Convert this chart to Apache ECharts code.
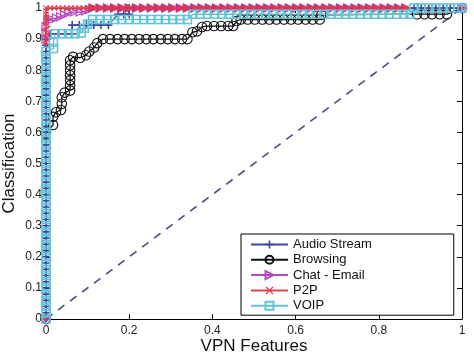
<!DOCTYPE html>
<html><head><meta charset="utf-8">
<script src="https://cdn.jsdelivr.net/npm/echarts@6/dist/echarts.min.js"></script>
<style>html,body{margin:0;padding:0;background:#fff}#c{width:474px;height:358px}</style>
</head><body><div id="c"></div>
<script>
const seriesNames = ['Audio Stream', 'Browsing', 'Chat - Email', 'P2P', 'VOIP'];
const xTickValues = [0, 0.2, 0.4, 0.6, 0.8, 1];
const yTickValues = [0, 0.1, 0.2, 0.3, 0.4, 0.5, 0.6, 0.7, 0.8, 0.9, 1];
const diagonal = [[0, 0], [1, 1]];

const audio = [
[0,0],[0,0.02],[0,0.04],[0,0.06],[0,0.08],[0,0.1],[0,0.12],[0,0.14],[0,0.16],[0,0.18],[0,0.2],[0,0.22],[0,0.24],[0,0.26],[0,0.28],[0,0.3],[0,0.32],[0,0.34],[0,0.36],[0,0.38],[0,0.4],[0,0.42],[0,0.44],[0,0.46],[0,0.48],[0,0.5],[0,0.52],[0,0.54],[0,0.56],[0,0.58],[0,0.6],[0,0.62],[0,0.64],[0,0.66],[0,0.68],[0,0.7],[0,0.72],[0,0.74],[0,0.76],[0,0.78],[0,0.8],[0,0.82],[0,0.84],[0,0.86],[0,0.88],[0,0.9],
[0.01,0.917],[0.03,0.917],[0.047,0.917],[0.063,0.917],[0.063,0.945],[0.08,0.945],[0.097,0.945],[0.115,0.945],[0.132,0.945],[0.15,0.945],[0.173,0.98],[0.187,0.98],[0.2,0.98],[0.2,1],[0.885,1],[0.902,1],[0.92,1],[0.937,1],[0.955,1],[0.972,1],[0.99,1],[1,1]
];

const browsing = [
[0,0],[0,0.6],[0.017,0.624],[0.017,0.65],[0.024,0.665],[0.036,0.672],[0.038,0.692],[0.038,0.713],[0.045,0.728],[0.058,0.735],[0.058,0.752],[0.058,0.768],[0.058,0.784],[0.058,0.8],[0.058,0.816],[0.058,0.832],[0.065,0.843],[0.082,0.84],[0.096,0.848],[0.104,0.86],[0.116,0.873],[0.123,0.887],[0.137,0.9],[0.154,0.9],[0.172,0.9],[0.189,0.9],[0.206,0.9],[0.224,0.9],[0.241,0.9],[0.258,0.9],[0.276,0.9],[0.293,0.9],[0.31,0.9],[0.327,0.9],[0.34,0.9],[0.352,0.922],[0.363,0.925],[0.375,0.939],[0.387,0.942],[0.404,0.942],[0.421,0.942],[0.438,0.942],[0.45,0.942],[0.458,0.958],[0.468,0.963],[0.485,0.963],[0.502,0.963],[0.52,0.963],[0.537,0.963],[0.554,0.963],[0.572,0.963],[0.589,0.963],[0.606,0.963],[0.624,0.963],[0.641,0.963],[0.658,0.963],[0.662,0.978],[0.892,0.98],[0.91,0.98],[0.928,0.98],[0.946,0.98],[0.964,0.98],[1,1]
];

const chat = [
[0,0],[0,0.9],[0,0.92],[0,0.94],
[0.005,0.963],[0.015,0.963],[0.025,0.968],[0.035,0.972],[0.045,0.978],[0.055,0.985],[0.068,0.987],[0.082,0.987],[0.095,0.99],[0.105,0.995],
[0.113,1],[0.13,1],[0.148,1],[0.165,1],[0.183,1],[0.2,1],[0.218,1],[0.235,1],[0.253,1],[0.27,1],[0.288,1],[0.305,1],[0.323,1],[0.34,1],[0.358,1],[0.375,1],[0.393,1],[0.41,1],[0.428,1],[0.445,1],[0.463,1],[0.48,1],[0.498,1],[0.515,1],[0.533,1],[0.55,1],[0.568,1],[0.585,1],[0.603,1],[0.62,1],[0.638,1],[0.655,1],[0.673,1],[0.69,1],[0.708,1],[0.725,1],[0.743,1],[0.76,1],[0.778,1],[0.795,1],[0.813,1],[0.83,1],[0.848,1],[0.865,1],[1,1]
];

const p2p = [
[0,0],[0,0.88],[0,0.89],[0,0.9],[0,0.91],[0,0.92],[0,0.93],[0,0.94],[0,0.95],[0,0.96],[0,0.97],[0,0.98],[0,0.99],[0,1],
[0.01,1],[0.02,1],[0.03,1],[0.04,1],[0.05,1],[0.06,1],[0.07,1],[0.08,1],[0.09,1],[0.1,1],[0.11,1],[0.12,1],
[0.13,1],[0.148,1],[0.165,1],[0.183,1],[0.2,1],[0.218,1],[0.235,1],[0.253,1],[0.27,1],[0.288,1],[0.305,1],[0.323,1],[0.34,1],[0.358,1],[0.375,1],[0.393,1],[0.41,1],[0.428,1],[0.445,1],[0.463,1],[0.48,1],[0.498,1],[0.515,1],[0.533,1],[0.55,1],[0.568,1],[0.585,1],[0.603,1],[0.62,1],[0.638,1],[0.655,1],[0.673,1],[0.69,1],[0.708,1],[0.725,1],[0.743,1],[0.76,1],[0.778,1],[0.795,1],[0.813,1],[0.83,1],[0.848,1],[0.865,1],[1,1]
];

const voip = [
[0,0],[0,0.02],[0,0.04],[0,0.06],[0,0.08],[0,0.1],[0,0.12],[0,0.14],[0,0.16],[0,0.18],[0,0.2],[0,0.22],[0,0.24],[0,0.26],[0,0.28],[0,0.3],[0,0.32],[0,0.34],[0,0.36],[0,0.38],[0,0.4],[0,0.42],[0,0.44],[0,0.46],[0,0.48],[0,0.5],[0,0.52],[0,0.54],[0,0.56],[0,0.58],[0,0.6],[0,0.62],[0,0.64],[0,0.66],[0,0.68],[0,0.7],[0,0.72],[0,0.74],[0,0.76],[0,0.78],[0,0.8],[0,0.82],[0,0.84],[0,0.86],
[0.018,0.87],[0.018,0.89],[0.022,0.917],[0.038,0.917],[0.054,0.917],[0.07,0.917],[0.085,0.92],[0.092,0.935],[0.1,0.948],[0.112,0.963],[0.13,0.963],[0.147,0.963],[0.165,0.963],[0.182,0.963],[0.2,0.963],[0.217,0.963],[0.235,0.963],[0.252,0.963],[0.27,0.963],[0.287,0.963],[0.305,0.963],[0.322,0.963],[0.34,0.963],
[0.353,0.98],[0.37,0.98],[0.388,0.98],[0.405,0.98],[0.423,0.98],[0.44,0.98],[0.458,0.98],[0.475,0.98],[0.493,0.98],[0.51,0.98],[0.528,0.98],[0.545,0.98],[0.563,0.98],[0.58,0.98],[0.598,0.98],[0.615,0.98],[0.633,0.98],[0.65,0.98],[0.668,0.98],[0.685,0.98],[0.703,0.98],[0.72,0.98],[0.738,0.98],[0.755,0.98],[0.773,0.98],[0.79,0.98],[0.808,0.98],[0.825,0.98],[0.843,0.98],[0.86,0.98],[0.875,0.98],
[0.885,1],[0.902,1],[0.92,1],[0.937,1],[0.955,1],[0.972,1],[0.99,1],[1,1]
];

const chatTop = chat.filter(p => p[1] === 1 && p[0] < 1);

const FONT = 'Liberation Sans, Arial, sans-serif';
const C_AUDIO = '#3a46a6', C_BROW = '#111111', C_CHAT = '#b04cbc', C_P2P = '#e2404e', C_VOIP = '#62c4d6';
const plusPath = 'path://M4,0h2v10h-2z M0,4h10v2h-10z';
const xPath = 'path://M0,1.2L1.2,0L5,3.8L8.8,0L10,1.2L6.2,5L10,8.8L8.8,10L5,6.2L1.2,10L0,8.8L3.8,5Z';

function axisCommon(extra) {
  return Object.assign({
    type: 'value', min: 0, max: 1,
    axisLine: { show: true, onZero: false, lineStyle: { color: '#000', width: 1 } },
    axisTick: { show: true, inside: true, length: 5, lineStyle: { color: '#000' } },
    splitLine: { show: false }
  }, extra);
}

const chart = echarts.init(document.getElementById('c'), null, { renderer: 'canvas' });
chart.setOption({
  animation: false,
  backgroundColor: '#fff',
  grid: { left: 46, right: 12, top: 8, bottom: 39, containLabel: false, outerBoundsMode: 'none' },
  xAxis: [
    axisCommon({ position: 'bottom', interval: xTickValues[1] - xTickValues[0],
      name: 'VPN Features', nameLocation: 'middle', nameGap: 19, nameMoveOverlap: false,
      nameTextStyle: { fontFamily: FONT, fontSize: 17, color: '#111' },
      axisLabel: { margin: 6, fontFamily: FONT, fontSize: 12, color: '#222' } }),
    axisCommon({ position: 'top', interval: xTickValues[1] - xTickValues[0], axisLabel: { show: false } })
  ],
  yAxis: [
    axisCommon({ position: 'left', interval: yTickValues[1] - yTickValues[0],
      name: 'Classification', nameLocation: 'middle', nameGap: 28, nameMoveOverlap: false,
      nameTextStyle: { fontFamily: FONT, fontSize: 17, color: '#111' },
      axisLabel: { margin: 4, fontFamily: FONT, fontSize: 12, color: '#222' } }),
    axisCommon({ position: 'right', interval: yTickValues[1] - yTickValues[0], axisLabel: { show: false } })
  ],
  legend: {
    data: seriesNames,
    orient: 'vertical',
    left: 241, top: 234,
    padding: [3, 82, 2, 9],
    itemGap: 0.3,
    itemWidth: 37, itemHeight: 10,
    backgroundColor: '#fff',
    borderColor: '#000', borderWidth: 1, borderRadius: 0,
    textStyle: { fontFamily: FONT, fontSize: 13, color: '#111', lineHeight: 15 },
    selectedMode: false
  },
  series: [
    { name: 'diag', type: 'line', data: diagonal, symbol: 'none', silent: true, clip: false,
      lineStyle: { color: '#4c4c7e', width: 1.6, type: [8, 7] } },
    { name: seriesNames[0], type: 'line', data: audio, clip: false,
      symbol: plusPath, symbolSize: 8,
      itemStyle: { color: C_AUDIO, borderWidth: 0 },
      lineStyle: { color: C_AUDIO, width: 1.3 } },
    { name: seriesNames[1], type: 'line', data: browsing, clip: false,
      symbol: 'circle', symbolSize: 9.5,
      itemStyle: { color: 'transparent', borderColor: C_BROW, borderWidth: 1.1 },
      lineStyle: { color: C_BROW, width: 1.3 } },
    { name: seriesNames[2], type: 'line', data: chat, clip: false,
      symbol: 'triangle', symbolSize: 8, symbolRotate: -90,
      itemStyle: { color: 'transparent', borderColor: C_CHAT, borderWidth: 1.2 },
      lineStyle: { color: C_CHAT, width: 1.3 } },
    { name: 'chatTop', type: 'line', data: chatTop, clip: false, silent: true,
      symbol: 'triangle', symbolSize: 8, symbolRotate: -90,
      itemStyle: { color: '#d8305f', borderColor: '#c8307a', borderWidth: 1 },
      lineStyle: { opacity: 0, width: 0 } },
    { name: seriesNames[3], type: 'line', data: p2p, clip: false,
      symbol: xPath, symbolSize: 6,
      itemStyle: { color: C_P2P, borderWidth: 0 },
      lineStyle: { color: C_P2P, width: 1.3 } },
    { name: seriesNames[4], type: 'line', data: voip, clip: false,
      symbol: 'rect', symbolSize: 8,
      itemStyle: { color: 'transparent', borderColor: C_VOIP, borderWidth: 1.6 },
      lineStyle: { color: C_VOIP, width: 1.4 } }
  ]
});
</script>
</body></html>
